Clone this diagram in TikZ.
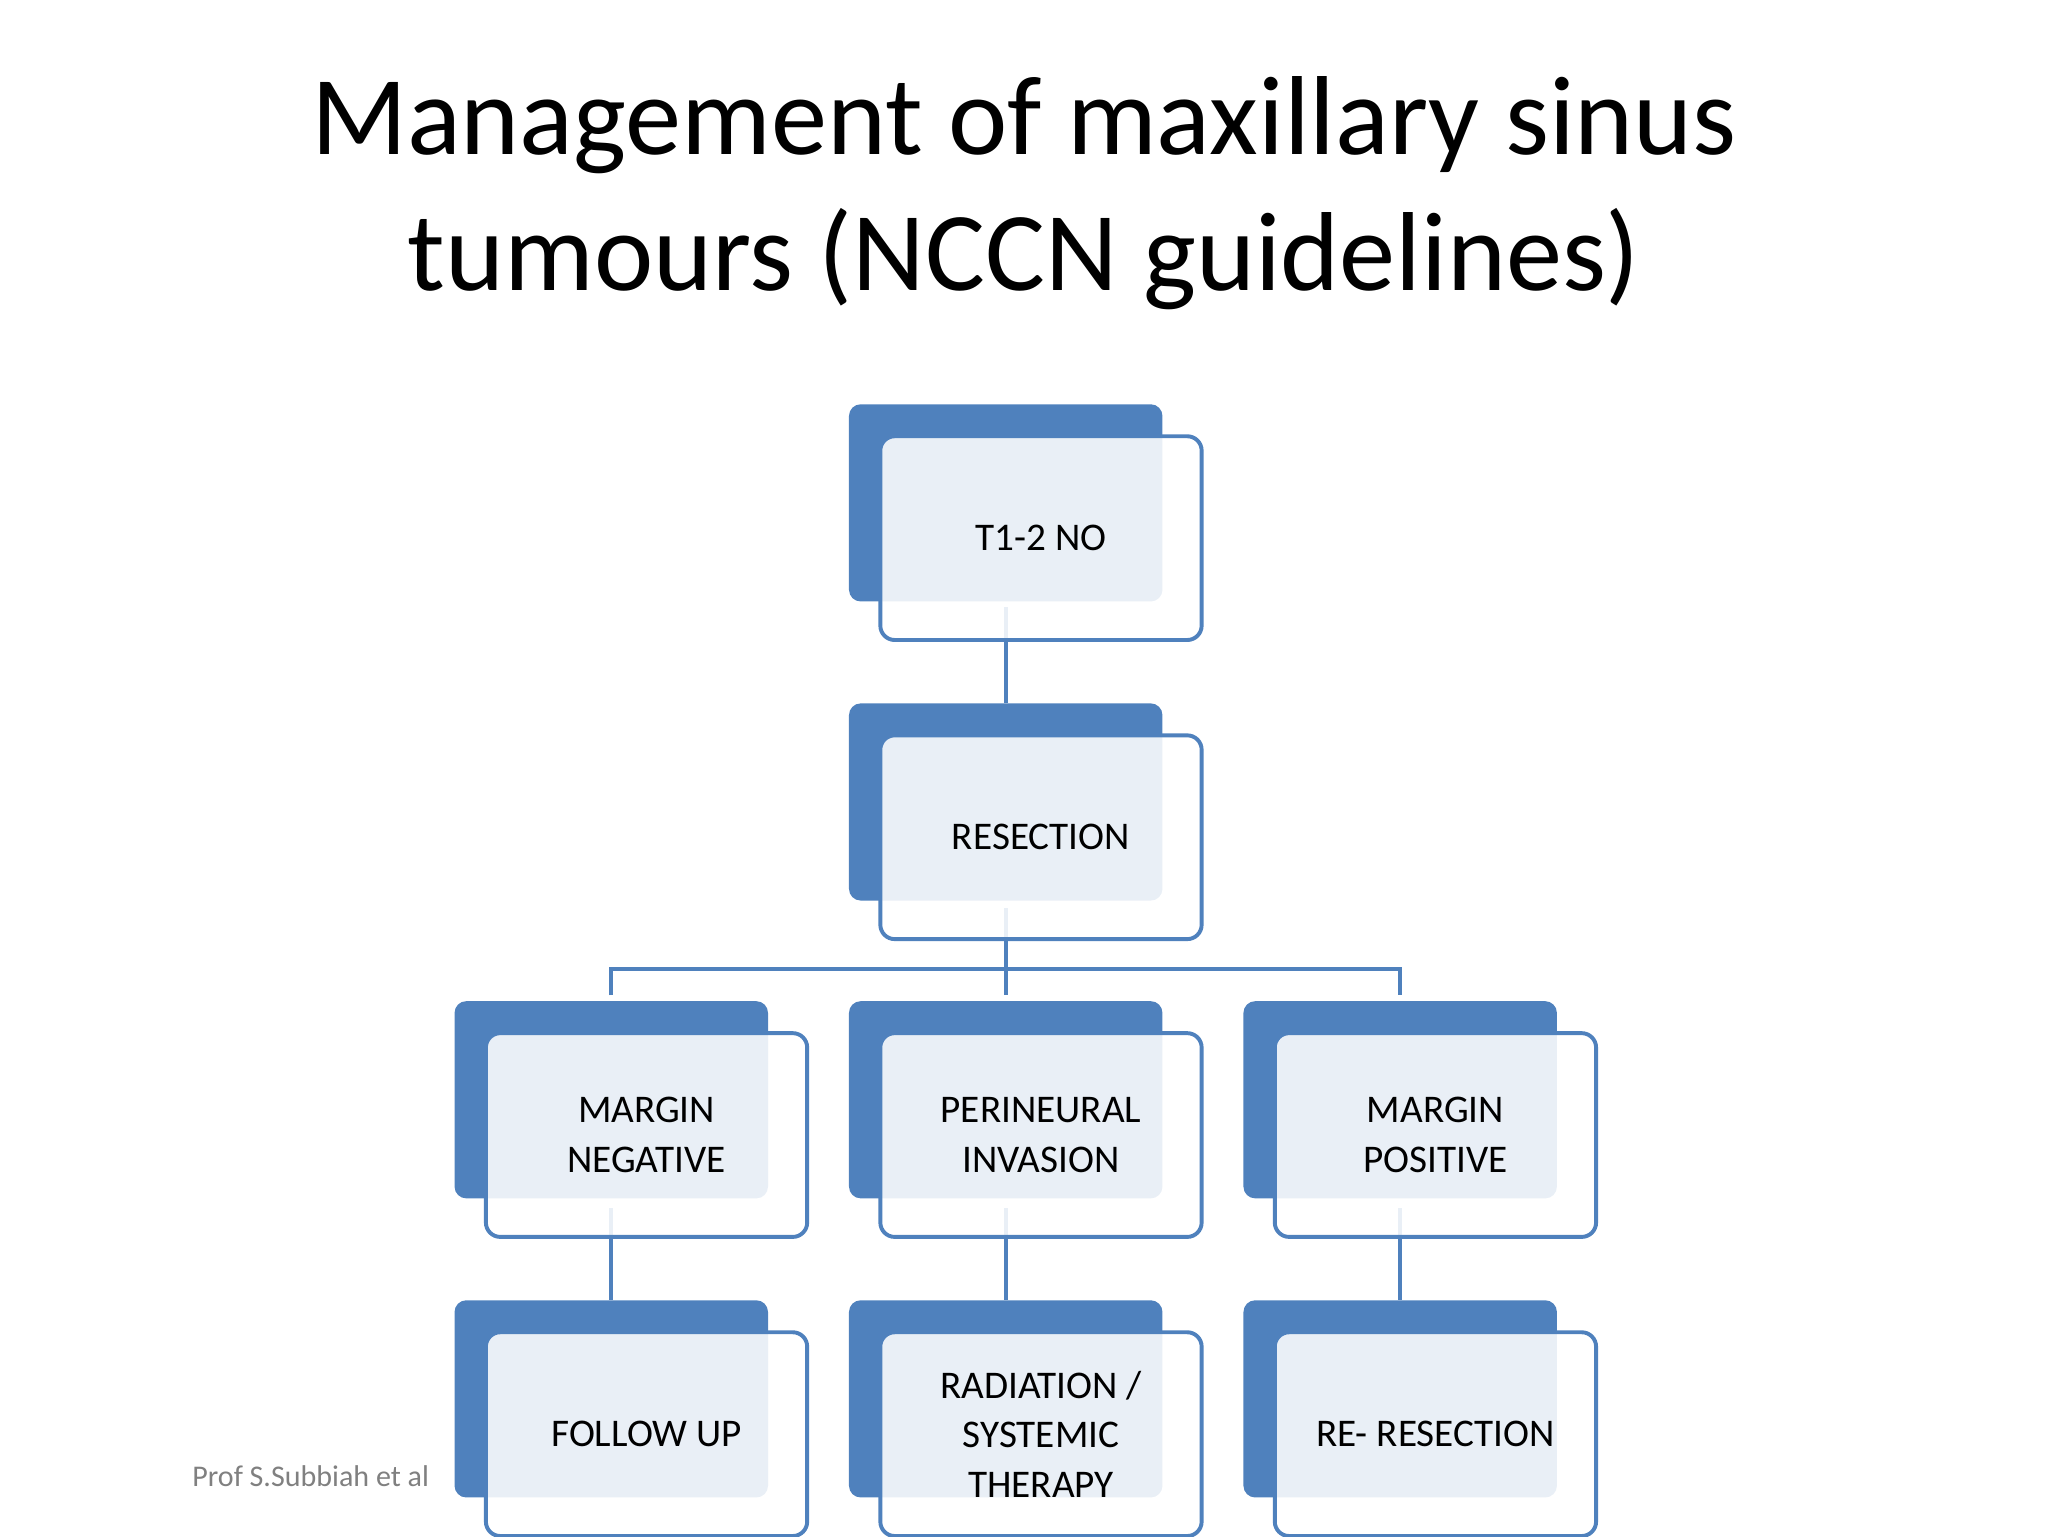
\documentclass[tikz,border=0pt]{standalone}
\usepackage{fontspec}
\setmainfont{Carlito}
\definecolor{accent}{HTML}{4F81BD}
\begin{document}
\begin{tikzpicture}[x=1pt,y=-1pt,
  back/.style={fill=accent,rounded corners=9pt,minimum width=240pt,minimum height=151pt,inner sep=0pt},
  front/.style={draw=accent,line width=3pt,fill=white,fill opacity=0.88,text opacity=1,rounded corners=11pt,minimum width=246pt,minimum height=156pt,inner sep=0pt,align=center,font=\fontsize{30}{38}\selectfont},
  link/.style={draw=accent,line width=3pt}]
\useasboundingbox (0,0) rectangle (1568,1176);
\node[font=\fontsize{86}{104}\selectfont,align=center] (title) at (784,148) {Management of maxillary sinus\\tumours (NCCN guidelines)};
\node[text=gray,font=\fontsize{23}{26}\selectfont,anchor=east] (foot) at (332,1130) {Prof S.Subbiah et al};
% connectors
\coordinate (c1) at (770,465); \coordinate (c2) at (770,538);
\coordinate (c3) at (770,695); \coordinate (j) at (770,742);
\coordinate (jl) at (468,742); \coordinate (jr) at (1072,742);
\coordinate (l1) at (468,762); \coordinate (r1) at (1072,762);
\coordinate (m1) at (770,762);
\coordinate (l2) at (468,925); \coordinate (l3) at (468,995);
\coordinate (m2) at (770,925); \coordinate (m3) at (770,995);
\coordinate (r2) at (1072,925); \coordinate (r3) at (1072,995);
\draw[link] (c1) -- (c2);
\draw[link] (c3) -- (m1);
\draw[link] (l1) -- (jl) -- (jr) -- (r1);
\draw[link] (l2) -- (l3);
\draw[link] (m2) -- (m3);
\draw[link] (r2) -- (r3);
% boxes
\foreach \n/\x/\y/\t in {a/770/385/{T1-2 NO},b/770/614/{RESECTION},
  d/468/842/{MARGIN\\NEGATIVE},e/770/842/{PERINEURAL\\INVASION},f/1072/842/{MARGIN\\POSITIVE},
  g/468/1071/{FOLLOW UP},h/770/1071/{RADIATION /\\SYSTEMIC\\THERAPY},i/1072/1071/{RE- RESECTION}}{
  \node[back] (\n b) at (\x,\y) {};
  \node[front] (\n) at (\x+27,\y+27) {\t};
}
\end{tikzpicture}
\end{document}
